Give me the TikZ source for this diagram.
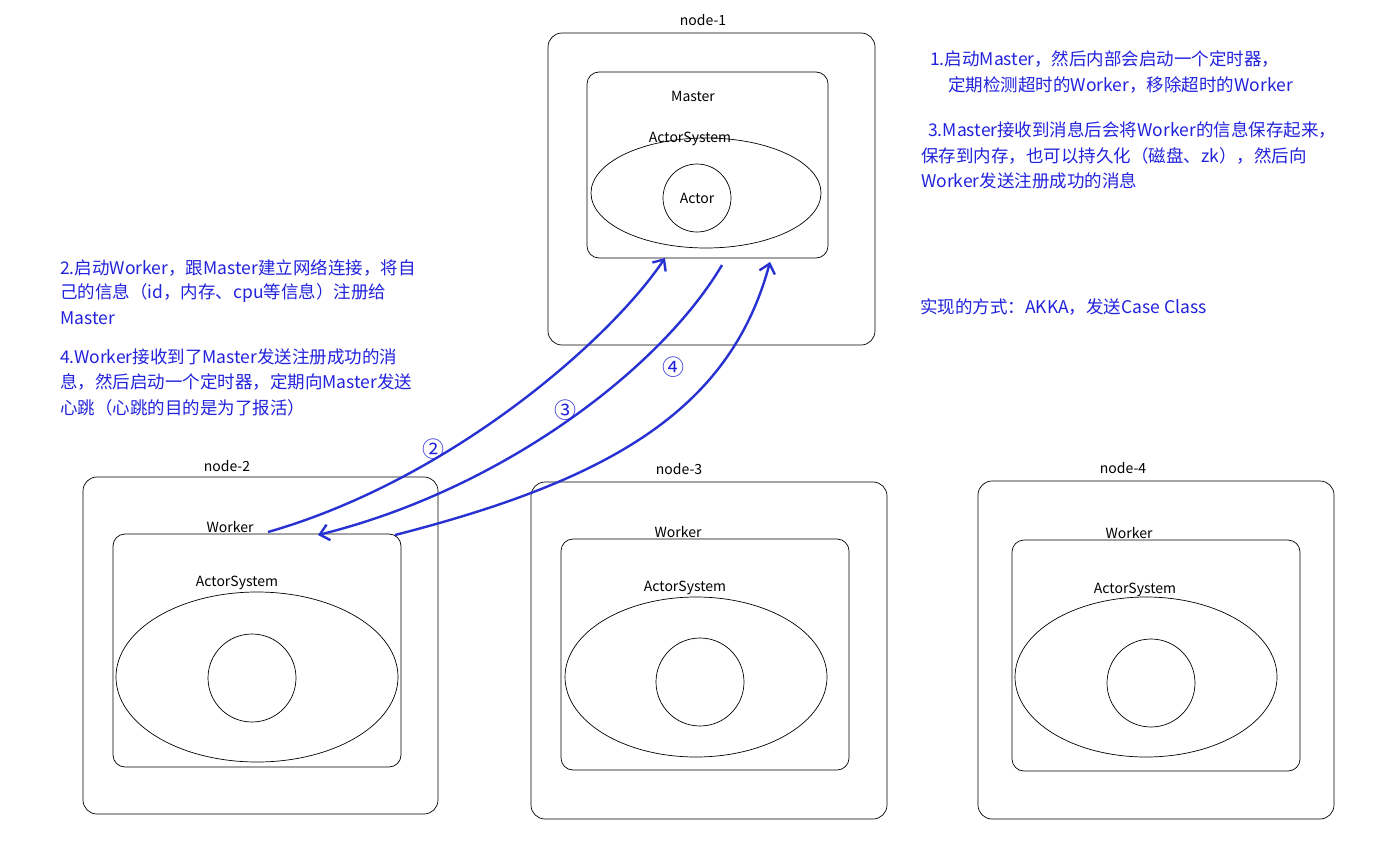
\documentclass[tikz,border=0pt]{standalone}
\usepackage{fontspec}
\setmainfont{Noto Sans CJK SC}
\usetikzlibrary{arrows.meta}
\definecolor{tblue}{RGB}{34,34,221}
\definecolor{ablue}{RGB}{40,50,210}
\tikzset{
  box/.style={draw,rounded corners=14pt,line width=0.7pt},
  ibox/.style={draw,rounded corners=12pt,line width=0.7pt},
  lbl/.style={font=\fontsize{14}{16}\selectfont,inner sep=0},
  note/.style={font=\fontsize{17.5}{20}\selectfont,text=tblue,anchor=west,inner sep=0},
  arr/.style={draw=ablue,line width=2.4pt,-{Straight Barb[length=9pt,width=16pt]}},
  num/.style={font=\fontsize{22}{24}\selectfont,text=tblue,inner sep=0}
}
\begin{document}
\begin{tikzpicture}[x=1pt,y=-1pt]
\useasboundingbox (0,0) rectangle (1394,864);
% node-1
\node[lbl] (n1) at (703,20) {node-1};
\draw[box] (548,33) rectangle (875,345);
\draw[ibox] (587,72) rectangle (828,258);
\node[lbl] (m) at (693,96) {Master};
\node[lbl] (as1) at (690,139) {ActorSystem};
\draw[line width=0.7pt] (706,193) ellipse [x radius=115,y radius=55];
\draw[line width=0.7pt] (697,198) circle [radius=34];
\node[lbl] (act) at (697,198) {Actor};
% node-2
\node[lbl] (n2) at (227,466) {node-2};
\draw[box] (83,477) rectangle (438,814);
\node[lbl] (w2) at (230,527) {Worker};
\draw[ibox] (113,534) rectangle (401,767);
\node[lbl] (as2) at (237,583) {ActorSystem};
\draw[line width=0.7pt] (257,677) ellipse [x radius=141,y radius=85];
\draw[line width=0.7pt] (252,678) circle [radius=44];
% node-3
\node[lbl] (n3) at (679,469) {node-3};
\draw[box] (531,482) rectangle (887,819);
\node[lbl] (w3) at (678,532) {Worker};
\draw[ibox] (561,539) rectangle (849,770);
\node[lbl] (as3) at (685,588) {ActorSystem};
\draw[line width=0.7pt] (696,677) ellipse [x radius=131,y radius=80];
\draw[line width=0.7pt] (700,682) circle [radius=44];
% node-4
\node[lbl] (n4) at (1123,468) {node-4};
\draw[box] (978,481) rectangle (1334,819);
\node[lbl] (w4) at (1129,533) {Worker};
\draw[ibox] (1012,540) rectangle (1300,771);
\node[lbl] (as4) at (1135,590) {ActorSystem};
\draw[line width=0.7pt] (1146,677) ellipse [x radius=131,y radius=80];
\draw[line width=0.7pt] (1151,683) circle [radius=44];
% arrows
\coordinate (a2s) at (268,532); \coordinate (a2e) at (665,258);
\coordinate (a3s) at (722,265); \coordinate (a3e) at (318,535);
\coordinate (a4s) at (395,535); \coordinate (a4e) at (770,262);
\draw[arr] (a2s) .. controls (450,480) and (610,340) .. (a2e);
\draw[arr] (a3s) .. controls (660,370) and (500,490) .. (a3e);
\draw[arr] (a4s) .. controls (610,480) and (730,410) .. (a4e);
\node[num] (c2) at (433,449) {②};
\node[num] (c3) at (565,410) {③};
\node[num] (c4) at (673,367) {④};
% notes
\node[note] (t1) at (930,59) {1.启动Master，然后内部会启动一个定时器，};
\node[note] (t1b) at (948,85) {定期检测超时的Worker，移除超时的Worker};
\node[note] (t3) at (928,130) {3.Master接收到消息后会将Worker的信息保存起来，};
\node[note] (t3b) at (921,156) {保存到内存，也可以持久化（磁盘、zk），然后向};
\node[note] (t3c) at (921,181) {Worker发送注册成功的消息};
\node[note] (t5) at (920,307) {实现的方式：AKKA，发送Case Class};
\node[note] (t2) at (60,268) {2.启动Worker，跟Master建立网络连接，将自};
\node[note] (t2b) at (60,293) {己的信息（id，内存、cpu等信息）注册给};
\node[note] (t2c) at (60,318) {Master};
\node[note] (t4) at (60,357) {4.Worker接收到了Master发送注册成功的消};
\node[note] (t4b) at (60,382) {息，然后启动一个定时器，定期向Master发送};
\node[note] (t4c) at (60,408) {心跳（心跳的目的是为了报活）};
\end{tikzpicture}
\end{document}
